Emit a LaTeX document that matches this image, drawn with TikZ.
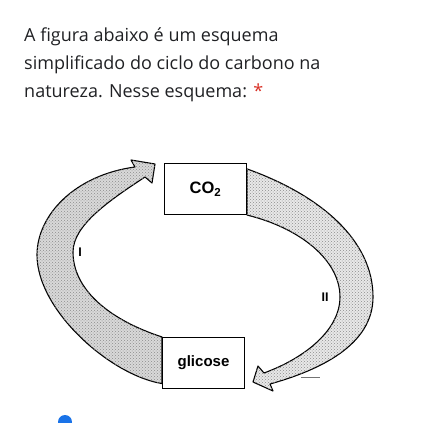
\documentclass[tikz,border=0pt]{standalone}
\usepackage{fontspec}
\setmainfont{Open Sans}
\newfontfamily\boxfont{Liberation Sans}
\usetikzlibrary{calc,patterns}
\definecolor{qtext}{HTML}{202124}
\definecolor{qred}{HTML}{D93025}
\definecolor{qblue}{HTML}{1A73E8}
\tikzset{
  band/.style={draw=black, line width=1.1pt, fill=black!15, line join=round,
    postaction={pattern=crosshatch dots, pattern color=black!45}},
  stage/.style={draw=black, line width=1.1pt, fill=white, minimum width=82pt,
    minimum height=51pt, inner sep=0pt, font=\boxfont\bfseries\fontsize{15}{15}\selectfont},
  tag/.style={font=\boxfont\bfseries\fontsize{12.5}{12.5}\selectfont, inner sep=0pt}
}
\begin{document}
\begin{tikzpicture}[x=1pt,y=-1pt]
  \useasboundingbox (0,0) rectangle (422,423);
  \node[anchor=north west, align=left, text=qtext, inner sep=0pt,
    font=\fontsize{18}{28}\selectfont] (q) at (24,28)
    {A figura abaixo é um esquema\\simplificado do ciclo do carbono na\\natureza. Nesse esquema: {\color{qred}*}};
  \node[stage, font=\boxfont\bfseries\fontsize{16.5}{16.5}\selectfont] (co2) at (205.5,189) {CO\textsubscript{2}};
  \node[stage] (gli) at (203.5,363) {glicose};
  \draw[band] (gli.north west) .. controls (110,320) and (73,290) .. (73,252)
    .. controls (73,225) and (110,200) .. (145,177) -- (152,183) -- (155,164)
    -- (131,160) -- (135,167) .. controls (75,175) and (37,215) .. (37,255)
    .. controls (37,310) and (110,375) .. ($(gli.south west)+(0,-5.5)$) -- cycle;
  \draw[band, fill=black!9] (co2.south east) .. controls (300,228) and (340,260) .. (340,297)
    .. controls (340,330) and (305,358) .. (264,373) -- (258,366) -- (253,382)
    -- (273,391) -- (270,384) .. controls (320,370) and (373,345) .. (373,297)
    .. controls (373,240) and (320,195) .. ($(co2.north east)+(0,6)$) -- cycle;
  \node[tag] (one) at (80,252) {I};
  \node[tag] (two) at (325,297) {II};
  \draw[line width=0.6pt, black!55] (301,377) -- (320,377);
  \fill[qblue] (65,422) circle (7);
\end{tikzpicture}
\end{document}
